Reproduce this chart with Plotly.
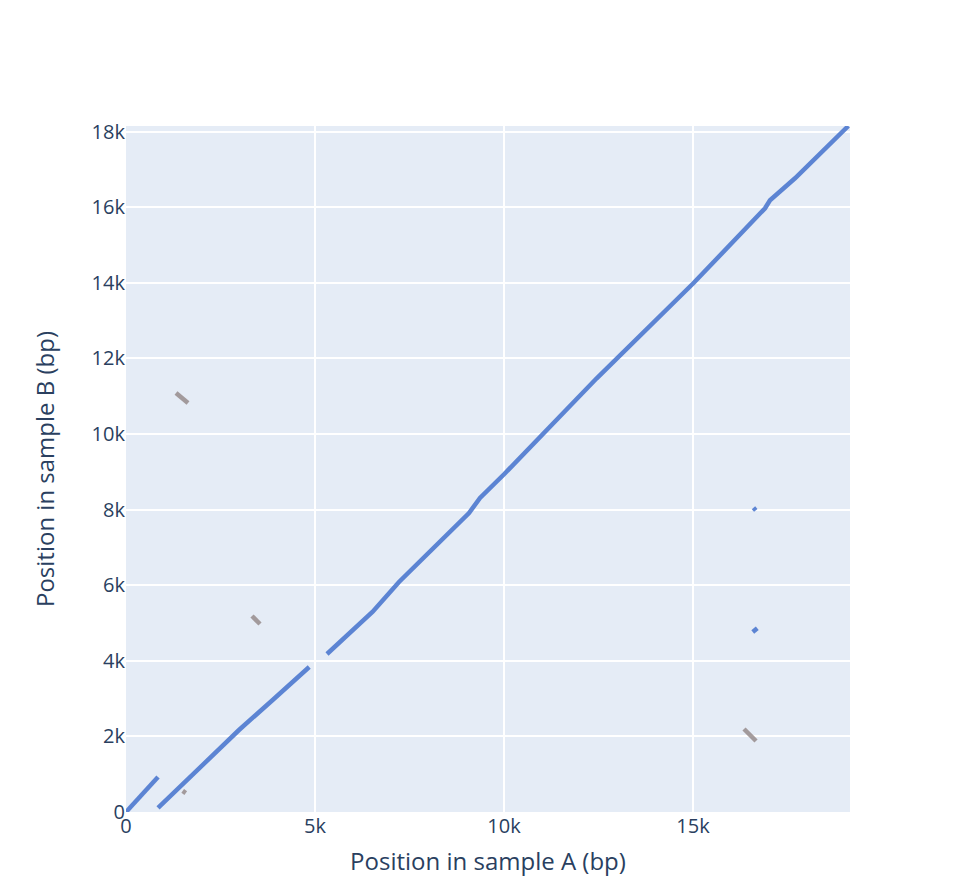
import plotly.graph_objects as go

# forward alignments (blue)
fwd_x = [[0, 847],
         [847, 2989, 3880, 4847],
         [5317, 6526, 7222, 9074, 9365, 10008, 12452, 15008, 16905, 17037, 17698, 19108],
         [16600, 16660], [16580, 16700]]
fwd_y = [[0, 926],
         [106, 2169, 2963, 3836],
         [4180, 5299, 6085, 7910, 8307, 8942, 11474, 13987, 15971, 16182, 16765, 18148],
         [8050, 7980], [4760, 4860]]
# reverse alignments (gray)
rev_x = [[1323, 1640], [3333, 3545], [16349, 16667], [1500, 1580]]
rev_y = [[11085, 10820], [5185, 4974], [2196, 1878], [560, 500]]

fig = go.Figure()
for xs, ys in zip(fwd_x, fwd_y):
    fig.add_trace(go.Scatter(x=xs, y=ys, mode="lines", line=dict(color="rgba(68,114,205,0.85)", width=4.5),
                             showlegend=False, hoverinfo="skip"))
for xs, ys in zip(rev_x, rev_y):
    fig.add_trace(go.Scatter(x=xs, y=ys, mode="lines", line=dict(color="rgba(150,140,140,0.85)", width=4.5),
                             showlegend=False, hoverinfo="skip"))

fig.update_layout(
    width=968, height=892, template="plotly",
    margin=dict(l=118, r=126, t=118, b=88),
    font=dict(family="Open Sans, sans-serif", size=20),
    xaxis=dict(title=dict(text="Position in sample A (bp)", font=dict(size=24)), range=[0, 19153],
               dtick=5000, zeroline=False, tickfont=dict(size=20), automargin=False, gridwidth=2),
    yaxis=dict(title=dict(text="Position in sample B (bp)", font=dict(size=24), standoff=30), range=[0, 18148],
               dtick=2000, zeroline=False, tickfont=dict(size=20), automargin=False, gridwidth=2),
)
fig.write_html("out.html")
